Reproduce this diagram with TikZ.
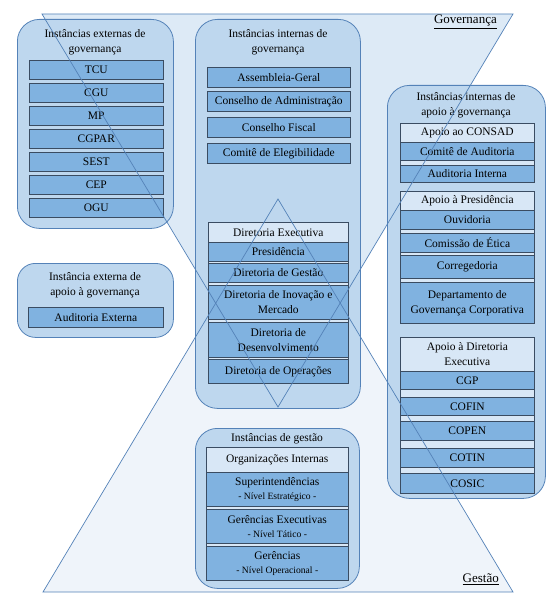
\documentclass[tikz,border=0pt]{standalone}
\usepackage{fontspec}
\setmainfont{Liberation Serif}
\usepackage{tikz}

\definecolor{govfundo}{RGB}{221,234,246}
\definecolor{gesfundo}{RGB}{239,244,250}
\definecolor{linha}{RGB}{84,130,184}
\definecolor{caixafundo}{RGB}{190,215,238}
\definecolor{barrafundo}{RGB}{128,178,224}
\definecolor{cabecafundo}{RGB}{216,231,246}
\definecolor{barraborda}{RGB}{58,76,98}
\newcommand{\nivelfonte}{\fontsize{9.6}{11}\selectfont}

\begin{document}
\begin{tikzpicture}[x=1pt,y=-1pt,
  texto/.style={font=\fontsize{11.5}{15}\selectfont},
  caixa/.style={draw=linha,fill=caixafundo,rounded corners=22pt,line width=0.8pt,anchor=north west,inner sep=0pt},
  barra/.style={texto,draw=barraborda,fill=barrafundo,line width=0.6pt,anchor=north west,inner sep=0pt,align=center},
  cabeca/.style={barra,fill=cabecafundo},
  titulo/.style={texto,align=center,inner sep=0pt}]
\useasboundingbox (0,0) rectangle (559,607);

% the two triangles
\coordinate (govE) at (42,14);
\coordinate (govD) at (513,14);
\coordinate (govV) at (278,407);
\coordinate (gesE) at (43,592);
\coordinate (gesD) at (513,592);
\coordinate (gesV) at (278,199);
\fill[govfundo] (govE) -- (govD) -- (govV) -- cycle;
\fill[gesfundo] (gesE) -- (gesD) -- (gesV) -- cycle;

% external instances
\node[caixa,minimum width=156pt,minimum height=209pt] (extgov) at (17,19) {};
\node[titulo] (extgovtit) at (95,42) {Instâncias externas de\\governança};
\foreach \nome/\txt [count=\i from 0] in {tcu/TCU,cgu/CGU,mp/MP,cgpar/CGPAR,sest/SEST,cep/CEP,ogu/OGU}
  \node[barra,minimum width=134pt,minimum height=19pt] (\nome) at (29,{60+23*\i}) {\txt};

\node[caixa,rounded corners=18pt,minimum width=156pt,minimum height=74pt] (extapoio) at (17,263) {};
\node[titulo] (extapoiotit) at (95,285.5) {Instância externa de\\apoio à governança};
\node[barra,minimum width=135pt,minimum height=20pt] (audext) at (28,307) {Auditoria Externa};

% internal instances
\node[caixa,minimum width=165pt,minimum height=389pt] (intgov) at (195,19) {};
\node[titulo] (intgovtit) at (278,42) {Instâncias internas de\\governança};
\foreach \nome/\y/\txt in {ag/67/Assembleia-Geral,consad/91/Conselho de Administração,
    cf/117/Conselho Fiscal,ce/143/Comitê de Elegibilidade}
  \node[barra,minimum width=143pt,minimum height=20pt] (\nome) at (207,\y) {\txt};

\node[cabeca,minimum width=140pt,minimum height=161pt] (direx) at (208,222) {};
\node[cabeca,minimum width=140pt,minimum height=20pt] (direxcab) at (208,222) {Diretoria Executiva};
\foreach \nome/\y/\h/\txt in {presid/242/19/Presidência,dg/263/19/Diretoria de Gestão,
    dim/285/34/{Diretoria de Inovação e\\Mercado},dd/322/35/{Diretoria de\\Desenvolvimento},
    dop/359/24/Diretoria de Operações}
  \node[barra,minimum width=140pt,minimum height=\h pt] (\nome) at (208,\y) {\txt};

% internal support
\node[caixa,minimum width=158pt,minimum height=413pt] (apoio) at (387,85) {};
\node[titulo] (apoiotit) at (466,105) {Instâncias internas de\\apoio à governança};

\node[cabeca,minimum width=134pt,minimum height=59pt] (gconsad) at (400,123) {};
\node[cabeca,minimum width=134pt,minimum height=19pt] (gconsadcab) at (400,123) {Apoio ao CONSAD};
\node[barra,minimum width=134pt,minimum height=18pt] (caud) at (400,142) {Comitê de Auditoria};
\node[barra,minimum width=134pt,minimum height=17pt] (audint) at (400,165) {Auditoria Interna};

\node[cabeca,minimum width=134pt,minimum height=132pt] (gpres) at (400,191) {};
\node[cabeca,minimum width=134pt,minimum height=19pt] (gprescab) at (400,191) {Apoio à Presidência};
\foreach \nome/\y/\h/\txt in {ouv/210/19/Ouvidoria,etica/233/19/Comissão de Ética,
    correg/255/23/Corregedoria,dgc/282/41/{Departamento de\\Governança Corporativa}}
  \node[barra,minimum width=134pt,minimum height=\h pt] (\nome) at (400,\y) {\txt};

\node[cabeca,minimum width=134pt,minimum height=156pt] (gdir) at (400,337) {};
\node[cabeca,minimum width=134pt,minimum height=34pt] (gdircab) at (400,337) {Apoio à Diretoria\\Executiva};
\foreach \nome/\y/\h/\txt in {cgp/371/18/CGP,cofin/397/18/COFIN,copen/421/19/COPEN,
    cotin/448/19/COTIN,cosic/473/20/COSIC}
  \node[barra,minimum width=134pt,minimum height=\h pt] (\nome) at (400,\y) {\txt};

% management
\node[caixa,minimum width=164pt,minimum height=160pt] (gestao) at (195,428) {};
\node[titulo] (gestaotit) at (277,439) {Instâncias de gestão};
\node[cabeca,minimum width=142pt,minimum height=133pt] (orgint) at (206,447) {};
\node[cabeca,minimum width=142pt,minimum height=25pt] (orgintcab) at (206,447) {Organizações Internas};
\foreach \nome/\y/\txt/\nv in {sup/472/Superintendências/Estratégico,
    gex/509/Gerências Executivas/Tático,ger/546/Gerências/Operacional}
  \node[barra,minimum width=142pt,minimum height=34pt] (\nome) at (206,\y)
    {\txt\\[-1pt]{\nivelfonte - Nível \nv\ -}};

% outlines on top
\draw[linha,line width=0.7pt] (govE) -- (govD) -- (govV) -- cycle;
\draw[linha,line width=0.7pt] (gesE) -- (gesD) -- (gesV) -- cycle;
\node[font=\fontsize{13}{15}\selectfont,anchor=east,inner sep=0pt] (govlbl) at (497,22) {\underline{Governança}};
\node[font=\fontsize{13}{15}\selectfont,anchor=east,inner sep=0pt] (geslbl) at (499,579) {\underline{Gestão}};

\end{tikzpicture}
\end{document}
